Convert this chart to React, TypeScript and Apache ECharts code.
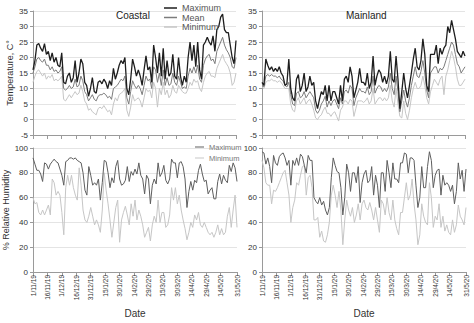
import React, { useEffect, useRef } from 'react';
import * as echarts from 'echarts';

const FONT = '"Liberation Sans", Arial, sans-serif';

// Readings every 2 days from 1/11/19 (day 0) to 31/5/20 (day 212)
const coastalTmax = [16,19,24,24.5,23,22,24.5,21,22,19,21.5,18.5,20,17.5,17,21.5,12,11.5,14,15,12,13.5,19,12,15,19.5,18,12,11,7.5,10,13.5,9,8.5,12,12.5,11.5,13,12,10,12.5,11,16.5,13,15,17.5,19,18,20,10,8,13,19.5,17,14,16,14,11,16,20.5,16,17,12,24,20,15,21.5,14,23,13,19,14,15,21,14,13,20,14,11,14,12,20,25,19,24,17,25,16,13,24,25,26.5,25,24,27,22,29,30,33,34,29,28,28,24,20,18,25.5];
const coastalTmean = [15,17,19.5,20,19,18.5,19.5,17.5,17.5,16,17,15.5,16,15,15.5,17,10,9.5,10,11,10,10.5,13,10.5,11,14,12.5,9,8,6,7,8,6.5,6,7.5,8,8,8.5,8,7,7.5,6.5,10,10.5,11,12,13,12.5,14,7,5,9,12.5,11,10,11,10,8,11,14,12.5,13,10,17,16,12,15,11,16,11,13.5,11,11.5,15,12,11,14,12,10,10.5,10,14,16.5,15,17,15,17.5,13,12,17.5,19.5,20.5,21,19,19.5,18,22,23.5,25,26.5,24,22.5,21.5,20,17,16.5,20];
const coastalTmin = [12,14,15.5,16,15,14,15,13,14,13.5,14.5,12.5,13,12.5,13,14,6.5,6,7,8,7,8,9,8,8.5,11,9,6,5,3,3.5,2.5,2,1.5,3.5,4,3.5,4.5,3.5,2.5,3,1.5,5,7,6,8,8.5,9,10,3,1,4,8,6,6.5,7,6,4,7,10,9,9.5,7,12,10,4,10,8,12,8,9.5,7,8,11,9,8.5,11,10,9,8.5,8.5,10,12,11,13,12,12.5,10,9,12,14,15,15.5,14,14,13.5,16.5,18,19.5,21,19,18,17,15,11,12,15];

const mainlandTmax = [12,11,19.5,17.5,16,17,15.5,16.5,15.5,17,15,14,11,11.5,19.5,10,7,6,13,14.5,9,11,15,9,10.5,14,11,12,6,3.5,6.5,9,8,11,6,11,6,9,9,7,5,11,6,13,14,12,17,14,7,9.5,12,16.5,12,12,11,15,10,12,20.5,11,14,16,15,12,14,11.5,14,22,13,12,20.5,13,3.5,9,15,10,7,11,15,19.5,23,17,16,19,26,21,11,9,21,21,21,24,18,23,21,23,24,30,28,32,29,26,22,21,20,22,20.5];
const mainlandTmean = [11,10.5,14,14.5,14,14.5,14,14,13.5,14,13,12.5,11,10.5,12,8,5,4.5,8.5,9,7,7.5,9,7,8,9,8,7,3,2,3,5,6,7.5,4,6,4.5,6,6.5,5,3.5,7,5,9,9.5,8.5,11,10,4.5,7,8.5,10,9,9,8.5,10.5,8,9,14,8.5,10,11,10.5,9,10,9,10.5,15,10,8,14,9,2.5,6,9.5,6,4,7,11,14,17,14,13.5,15.5,19,15,9.5,7,15,16,17,17,15,16.5,16,17,19,21,23,25,24,21,18,17,15,16,17];
const mainlandTmin = [10.5,10,12,12.5,12.5,13,12.5,12.5,12,12.5,12,11,10,10,10,5,3,2.5,6,7,5,6,7,5,6,6.5,5,3,0.5,0,1,1.5,3,4,2,2,1,2,2.5,1,-0.5,3,4,6,6,5,6.5,6,1,3.5,6,6,6,5.5,6,7,5,6,10,5,6,7,7,6,7,6,7,11,6,4,10,5,1,0.5,6,2,0,3,7,10,12,10,10,11,14,11,7,5,9,11,13,12,11,13,14,8,14,16,19,22,20,17,13,11,11,12,13];

const coastalRHmax = [92,87,82,82,79,73,88,87,83,87,89,91,89,88,83,78,70,89,90,92,92,91,92,90,89,88,80,66,62,85,78,70,72,70,75,58,72,90,89,80,68,76,72,85,90,75,70,71,74,85,73,81,78,83,79,88,78,75,63,78,75,55,70,75,71,88,77,80,86,74,71,75,91,88,88,76,88,89,85,75,52,65,73,66,74,72,82,87,79,73,74,63,66,68,59,59,73,79,71,78,74,72,86,81,88,84,73];
const coastalRHmin = [60,55,56,48,46,50,46,50,54,46,75,72,62,65,62,48,30,68,78,70,78,68,62,58,84,70,50,42,40,45,52,45,38,42,38,32,50,80,66,55,42,28,40,52,58,24,42,48,53,46,38,55,45,58,42,50,45,38,28,32,36,25,38,45,40,58,40,48,48,36,38,46,68,58,68,55,62,50,42,35,26,32,40,36,46,42,48,38,36,40,36,32,30,32,28,32,38,30,35,30,32,45,52,36,50,62,36];

const mainlandRHmax = [97,96,87,92,85,72,94,88,86,93,95,96,92,86,90,70,90,86,92,86,95,93,86,80,94,90,90,60,57,55,60,54,57,50,46,52,76,92,86,81,80,68,46,60,87,80,65,80,80,72,85,56,72,79,82,72,74,85,62,78,70,52,80,80,65,90,80,68,88,75,75,72,88,88,96,95,80,92,92,90,70,52,60,85,68,68,85,97,90,68,78,82,83,62,78,70,72,70,65,70,55,65,88,75,82,65,83];
const mainlandRHmin = [90,84,72,70,70,55,66,65,68,72,76,80,82,72,62,40,52,58,72,70,78,85,86,62,76,78,68,42,42,44,28,33,25,24,30,40,62,70,62,52,65,50,22,42,58,50,45,52,40,46,55,42,55,58,52,50,56,50,42,52,42,32,58,55,46,60,48,42,58,42,35,30,48,48,60,72,58,62,75,55,42,22,30,55,45,40,38,72,60,36,45,42,55,36,45,33,38,32,30,42,32,38,54,45,42,38,52];

const days = coastalTmax.map((_, i) => i * 2);

const tickDays = [0, 15, 30, 45, 60, 75, 90, 105, 120, 135, 150, 165, 180, 195, 212];
const tickLabels = ['1/11/19', '16/11/19', '1/12/19', '16/12/19', '31/12/19', '15/1/20', '30/1/20', '14/2/20', '29/2/20', '15/3/20', '30/3/20', '14/4/20', '29/4/20', '14/5/20', '31/5/20'];

const tempTicks = { min: -5, max: 35, interval: 5 };
const rhTicks = { min: 0, max: 100, interval: 20 };

const pair = (arr: number[]) => arr.map((v, i) => [days[i], v]);

const C_MAX = '#1e1e1e';
const C_MEAN = '#7c7c7c';
const C_MIN = '#c6c6c6';
const C_RHMAX = '#5e5e5e';

function xAxisFor(gridIndex: number, showLabels: boolean) {
  return {
    type: 'value',
    gridIndex,
    min: 0,
    max: 212,
    axisLine: { show: true, onZero: false, lineStyle: { color: '#9a9a9a', width: 1 } },
    axisTick: { show: true, customValues: tickDays, length: 4, lineStyle: { color: '#9a9a9a' } },
    axisLabel: showLabels
      ? {
          show: true,
          customValues: tickDays,
          rotate: 90,
          fontSize: 6.5,
          color: '#333',
          margin: 3,
          fontFamily: FONT,
          formatter: (v: number) => {
            const k = tickDays.indexOf(v);
            return k >= 0 ? tickLabels[k] : '';
          },
        }
      : { show: false },
    splitLine: { show: false },
    name: showLabels ? 'Date' : '',
    nameLocation: 'middle',
    nameGap: 36,
    nameTextStyle: { fontSize: 10, color: '#333', fontFamily: FONT },
  };
}

function yAxisFor(gridIndex: number, ticks: { min: number; max: number; interval: number }, name: string) {
  return {
    type: 'value',
    gridIndex,
    min: ticks.min,
    max: ticks.max,
    interval: ticks.interval,
    axisLine: { show: true, lineStyle: { color: '#9a9a9a', width: 1 } },
    axisTick: { show: true, length: 3, lineStyle: { color: '#9a9a9a' } },
    axisLabel: { fontSize: 8, color: '#333', margin: 5, fontFamily: FONT },
    splitLine: { show: true, lineStyle: { color: '#e4e4e4', width: 1 } },
    name,
    nameLocation: 'middle',
    nameGap: 19,
    nameTextStyle: { fontSize: 9, color: '#333', fontFamily: FONT },
  };
}

function lineSeries(name: string, data: number[], idx: number, color: string, width: number) {
  return {
    type: 'line',
    name,
    xAxisIndex: idx,
    yAxisIndex: idx,
    data: pair(data),
    symbol: 'none',
    showSymbol: false,
    lineStyle: { color, width },
    itemStyle: { color },
    emphasis: { disabled: true },
  };
}

export default function App() {
  const ref = useRef<HTMLDivElement>(null);
  useEffect(() => {
    if (!ref.current) return;
    const chart = echarts.init(ref.current, undefined, { renderer: 'svg' });
    chart.setOption({
      animation: false,
      backgroundColor: '#ffffff',
      textStyle: { fontFamily: FONT },
      title: [
        { text: 'Coastal', left: 116, top: 10, padding: 0, textStyle: { fontSize: 10, fontWeight: 'normal', color: '#222', fontFamily: FONT } },
        { text: 'Mainland', left: 346, top: 10, padding: 0, textStyle: { fontSize: 10, fontWeight: 'normal', color: '#222', fontFamily: FONT } },
      ],
      legend: [
        {
          data: ['Maximum', 'Mean', 'Minimum'],
          orient: 'vertical',
          left: 164,
          top: 3.5,
          padding: 0,
          icon: 'rect',
          itemWidth: 13,
          itemHeight: 1.5,
          itemGap: 0.5,
          textStyle: { fontSize: 9, lineHeight: 9, color: '#555', fontFamily: FONT },
        },
        {
          data: ['RH Maximum', 'RH Minimum'],
          orient: 'vertical',
          left: 195,
          top: 142.5,
          padding: 0,
          icon: 'rect',
          itemWidth: 9,
          itemHeight: 1,
          itemGap: 2,
          formatter: (n: string) => n.replace('RH ', ''),
          textStyle: { fontSize: 7.5, lineHeight: 9, color: '#777', fontFamily: FONT },
        },
      ],
      grid: [
        { left: 33, top: 11, width: 203, height: 124 },
        { left: 262, top: 11, width: 203, height: 124 },
        { left: 33, top: 148, width: 204, height: 124 },
        { left: 262, top: 148, width: 204, height: 124 },
      ],
      xAxis: [xAxisFor(0, false), xAxisFor(1, false), xAxisFor(2, true), xAxisFor(3, true)],
      yAxis: [
        yAxisFor(0, tempTicks, 'Temperature, C°'),
        yAxisFor(1, tempTicks, ''),
        yAxisFor(2, rhTicks, '% Relative Humidity'),
        yAxisFor(3, rhTicks, ''),
      ],
      series: [
        lineSeries('Minimum', coastalTmin, 0, C_MIN, 1),
        lineSeries('Mean', coastalTmean, 0, C_MEAN, 1),
        lineSeries('Maximum', coastalTmax, 0, C_MAX, 1.3),
        lineSeries('Minimum', mainlandTmin, 1, C_MIN, 1),
        lineSeries('Mean', mainlandTmean, 1, C_MEAN, 1),
        lineSeries('Maximum', mainlandTmax, 1, C_MAX, 1.3),
        lineSeries('RH Minimum', coastalRHmin, 2, C_MIN, 1),
        lineSeries('RH Maximum', coastalRHmax, 2, C_RHMAX, 1),
        lineSeries('RH Minimum', mainlandRHmin, 3, C_MIN, 1),
        lineSeries('RH Maximum', mainlandRHmax, 3, C_RHMAX, 1),
      ],
    });
    return () => chart.dispose();
  }, []);
  return (
    <div
      ref={ref}
      style={{ position: 'fixed', left: 0, top: 0, width: 474, height: 323, background: '#fff' }}
    />
  );
}
